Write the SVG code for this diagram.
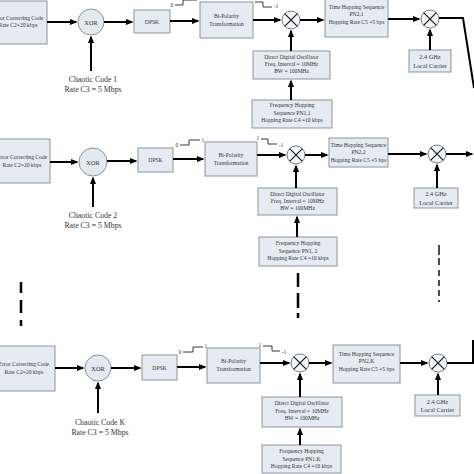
<svg xmlns="http://www.w3.org/2000/svg" width="474" height="474" viewBox="0 0 474 474">
<defs>
<style>
.box{fill:#e6ebf3;stroke:#8c929c;stroke-width:1}
.xor{fill:#e4e8ef;stroke:#8c929c;stroke-width:1}
.mul{fill:#f3f4f7;stroke:#777c86;stroke-width:1}
.x{stroke:#111;stroke-width:1.1}
.t{font-family:"Liberation Serif","Times New Roman",serif;fill:#333;text-anchor:middle}
.s{font-size:5.6px}
.m{font-size:6.3px}
.l{font-size:7.8px}
.c{stroke:#000;stroke-width:2;fill:none}
.w{stroke:#222;stroke-width:0.9;fill:none}
.d{stroke:#000;stroke-width:2.5;fill:none}
.dt{stroke:#000;stroke-width:1.4;fill:none}
</style>
<marker id="ah" viewBox="0 0 10 10" refX="8" refY="5" markerWidth="4" markerHeight="4" orient="auto">
<path d="M0,1 L10,5 L0,9 z" fill="#000"/>
</marker>
</defs>
<rect width="474" height="474" fill="#fff"/>

<!-- Row 1 -->
<g id="ec1"><rect class="box" x="-20" y="1" width="67" height="43"/><text class="t s" x="18" y="20">Error Correcting Code</text><text class="t s" x="18" y="27">Rate C2=20 kbps</text></g>
<g id="xor1"><circle class="xor" cx="91" cy="22" r="13"/><text class="t m" x="91" y="24.5">XOR</text></g>
<g id="dpsk1"><rect class="box" x="134" y="10" width="36" height="23"/><text class="t s" x="152" y="23.5">DPSK</text></g>
<g id="bip1"><rect class="box" x="200" y="2" width="53" height="36"/><text class="t s" x="226.5" y="18">Bi-Polarity</text><text class="t s" x="226.5" y="26">Transformation</text></g>
<g id="wave1a"><text class="t s" x="172" y="7">0</text><path class="w" d="M175,5 H183 V0 H197"/></g>
<g id="wave1b"><path class="w" d="M255,2 H263 V7 H272"/><text class="t s" x="276" y="8">-1</text></g>
<g id="mul1"><circle class="mul" cx="291" cy="20" r="9"/><path class="x" d="M284.6,13.6 L297.4,26.4 M297.4,13.6 L284.6,26.4"/></g>
<g id="th1"><rect class="box" x="325" y="-2" width="63" height="39"/><text class="t s" x="356.5" y="9">Time Hopping Sequence</text><text class="t s" x="356.5" y="16">PN2,1</text><text class="t s" x="356.5" y="23.5">Hopping Rate C5 =5 bps</text></g>
<g id="mul2"><circle class="mul" cx="430" cy="19" r="9"/><path class="x" d="M423.6,12.6 L436.4,25.4 M436.4,12.6 L423.6,25.4"/></g>
<g id="lc1"><rect class="box" x="409" y="50" width="42" height="22"/><text class="t m" x="430" y="59">2.4 GHz</text><text class="t m" x="430" y="67.5">Local Carrier</text></g>
<g id="ddo1"><rect class="box" x="253" y="51" width="77" height="28"/><text class="t s" x="291.5" y="58.5">Direct Digital Oscillator</text><text class="t s" x="291.5" y="65.5">Freq. Interval = 10MHz</text><text class="t s" x="291.5" y="73">BW = 100MHz</text></g>
<g id="fh1"><rect class="box" x="252" y="100" width="80" height="28"/><text class="t s" x="292" y="107">Frequency Hopping</text><text class="t s" x="292" y="114.5">Sequence PN1,1</text><text class="t s" x="292" y="122">Hopping Rate C4 =10 kbps</text></g>
<g id="cc1"><text class="t l" x="93" y="82">Chaotic Code 1</text><text class="t l" x="93" y="92">Rate C3 = 5 Mbps</text></g>

<!-- Row 2 -->
<g id="ec2"><rect class="box" x="-20" y="139" width="70" height="44"/><text class="t s" x="22" y="159">Error Correcting Code</text><text class="t s" x="22" y="166.5">Rate C2=20 kbps</text></g>
<g id="xor2"><circle class="xor" cx="93" cy="162" r="14"/><text class="t m" x="93" y="164.5">XOR</text></g>
<g id="dpsk2"><rect class="box" x="138" y="148" width="35" height="24"/><text class="t s" x="155.5" y="162">DPSK</text></g>
<g id="bip2"><rect class="box" x="205" y="142" width="52" height="34"/><text class="t s" x="231" y="157">Bi-Polarity</text><text class="t s" x="231" y="165">Transformation</text></g>
<g id="wave2a"><text class="t s" x="177" y="147">0</text><path class="w" d="M180,145 H189 V140 H200"/><text class="t s" x="203" y="142">1</text></g>
<g id="wave2b"><text class="t s" x="258" y="140">1</text><path class="w" d="M261,139 H268 V144 H277"/><text class="t s" x="281" y="147">-1</text></g>
<g id="mul3"><circle class="mul" cx="296" cy="155" r="9"/><path class="x" d="M289.6,148.6 L302.4,161.4 M302.4,148.6 L289.6,161.4"/></g>
<g id="th2"><rect class="box" x="329" y="138" width="59" height="29"/><text class="t s" x="358.5" y="147">Time Hopping Sequence</text><text class="t s" x="358.5" y="154">PN2,2</text><text class="t s" x="358.5" y="161.5">Hopping Rate C5 =5 bps</text></g>
<g id="mul4"><circle class="mul" cx="437" cy="154" r="9"/><path class="x" d="M430.6,147.6 L443.4,160.4 M443.4,147.6 L430.6,160.4"/></g>
<g id="lc2"><rect class="box" x="414" y="188" width="44" height="20"/><text class="t m" x="436" y="196">2.4 GHz</text><text class="t m" x="436" y="204.5">Local Carrier</text></g>
<g id="ddo2"><rect class="box" x="258" y="188" width="79" height="27"/><text class="t s" x="297.5" y="195.5">Direct Digital Oscillator</text><text class="t s" x="297.5" y="202.5">Freq. Interval = 10MHz</text><text class="t s" x="297.5" y="210">BW = 100MHz</text></g>
<g id="fh2"><rect class="box" x="259" y="237" width="78" height="29"/><text class="t s" x="298" y="245">Frequency Hopping</text><text class="t s" x="298" y="252.5">Sequence PN1, 2</text><text class="t s" x="298" y="260">Hopping Rate C4 =10 kbps</text></g>
<g id="cc2"><text class="t l" x="93" y="218">Chaotic Code 2</text><text class="t l" x="93" y="228">Rate C3 = 5 Mbps</text></g>

<!-- Row 3 -->
<g id="ec3"><rect class="box" x="-20" y="346" width="75" height="45"/><text class="t s" x="24" y="366">Error Correcting Code</text><text class="t s" x="24" y="373.5">Rate C2=20 kbps</text></g>
<g id="xor3"><circle class="xor" cx="98" cy="368" r="13"/><text class="t m" x="98" y="370.5">XOR</text></g>
<g id="dpsk3"><rect class="box" x="142" y="355" width="35" height="25"/><text class="t s" x="159.5" y="369.5">DPSK</text></g>
<g id="bip3"><rect class="box" x="207" y="348" width="53" height="35"/><text class="t s" x="233.5" y="363">Bi-Polarity</text><text class="t s" x="233.5" y="371">Transformation</text></g>
<g id="wave3a"><text class="t s" x="180" y="354">0</text><path class="w" d="M183,352 H193 V347 H203"/><text class="t s" x="206" y="348">1</text></g>
<g id="wave3b"><text class="t s" x="260" y="347">1</text><path class="w" d="M263,346 H272 V351 H280"/><text class="t s" x="284" y="354">-1</text></g>
<g id="mul5"><circle class="mul" cx="300" cy="363" r="9"/><path class="x" d="M293.6,356.6 L306.4,369.4 M306.4,356.6 L293.6,369.4"/></g>
<g id="th3"><rect class="box" x="333" y="345" width="67" height="38"/><text class="t s" x="366.5" y="356">Time Hopping Sequence</text><text class="t s" x="366.5" y="363">PN2,K</text><text class="t s" x="366.5" y="370.5">Hopping Rate C5 =5 bps</text></g>
<g id="mul6"><circle class="mul" cx="438" cy="363" r="9"/><path class="x" d="M431.6,356.6 L444.4,369.4 M444.4,356.6 L431.6,369.4"/></g>
<g id="lc3"><rect class="box" x="415" y="395" width="45" height="21"/><text class="t m" x="437.5" y="403.5">2.4 GHz</text><text class="t m" x="437.5" y="412">Local Carrier</text></g>
<g id="ddo3"><rect class="box" x="262" y="397" width="80" height="30"/><text class="t s" x="302" y="405">Direct Digital Oscillator</text><text class="t s" x="302" y="412.5">Freq. Interval = 10MHz</text><text class="t s" x="302" y="420">BW = 100MHz</text></g>
<g id="fh3"><rect class="box" x="262" y="445" width="79" height="28"/><text class="t s" x="301.5" y="453">Frequency Hopping</text><text class="t s" x="301.5" y="460.5">Sequence PN1,K</text><text class="t s" x="301.5" y="468">Hopping Rate C4 =10 kbps</text></g>
<g id="cc3"><text class="t l" x="100" y="425">Chaotic Code K</text><text class="t l" x="100" y="435">Rate C3 = 5 Mbps</text></g>

<!-- Connectors -->
<g id="connectors">
<path class="c" marker-end="url(#ah)" d="M47,22 H76"/>
<path class="c" marker-end="url(#ah)" d="M104,22 H132"/>
<path class="c" marker-end="url(#ah)" d="M170,21 H198"/>
<path class="c" marker-end="url(#ah)" d="M253,20 H280"/>
<path class="c" marker-end="url(#ah)" d="M300,20 H323"/>
<path class="c" marker-end="url(#ah)" d="M388,19 H419"/>
<path class="c" d="M439,18 H463 L474,88"/>
<path class="c" marker-end="url(#ah)" d="M430,50 V30"/>
<path class="c" marker-end="url(#ah)" d="M291,51 V31"/>
<path class="c" marker-end="url(#ah)" d="M291,100 V81"/>
<path class="c" marker-end="url(#ah)" d="M91,71 V37"/>

<path class="c" marker-end="url(#ah)" d="M50,162 H77"/>
<path class="c" marker-end="url(#ah)" d="M107,161 H136"/>
<path class="c" marker-end="url(#ah)" d="M173,159 H203"/>
<path class="c" marker-end="url(#ah)" d="M257,155 H285"/>
<path class="c" marker-end="url(#ah)" d="M305,155 H327"/>
<path class="c" marker-end="url(#ah)" d="M388,154 H426"/>
<path class="c" marker-end="url(#ah)" d="M446,154 H472"/>
<path class="c" marker-end="url(#ah)" d="M437,188 V165"/>
<path class="c" marker-end="url(#ah)" d="M296,188 V166"/>
<path class="c" marker-end="url(#ah)" d="M297,237 V217"/>
<path class="c" marker-end="url(#ah)" d="M93,207 V178"/>

<path class="c" marker-end="url(#ah)" d="M55,368 H83"/>
<path class="c" marker-end="url(#ah)" d="M111,368 H140"/>
<path class="c" marker-end="url(#ah)" d="M177,367 H205"/>
<path class="c" marker-end="url(#ah)" d="M260,363 H289"/>
<path class="c" marker-end="url(#ah)" d="M309,363 H331"/>
<path class="c" marker-end="url(#ah)" d="M400,363 H427"/>
<path class="c" d="M447,363 H473 V340"/>
<path class="c" marker-end="url(#ah)" d="M438,395 V374"/>
<path class="c" marker-end="url(#ah)" d="M300,397 V374"/>
<path class="c" marker-end="url(#ah)" d="M300,445 V429"/>
<path class="c" marker-end="url(#ah)" d="M98,413 V383"/>

<path class="d" d="M21,282 V293 M21,300 V313 M21,320 V326"/>
<path class="d" d="M298,273 V287 M298,293 V308 M298,313 V318"/>
<path class="dt" d="M439,245 V255 M439,258 V265 M439,270 V276 M439,280 V286 M439,290 V296 M439,300 V302"/>
</g>
</svg>
